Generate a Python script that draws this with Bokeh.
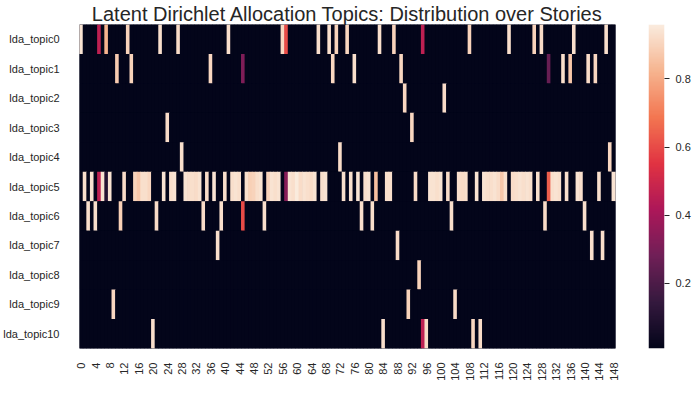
import math
import numpy as np
from bokeh.plotting import figure
from bokeh.models import Range1d, FixedTicker, LinearColorMapper, ColumnDataSource
from bokeh.transform import linear_cmap
from bokeh.layouts import row
from bokeh.embed import file_html
from bokeh.resources import INLINE

# ---------------- data ----------------
topic_names = ["lda_topic0", "lda_topic1", "lda_topic2", "lda_topic3", "lda_topic4",
               "lda_topic5", "lda_topic6", "lda_topic7", "lda_topic8", "lda_topic9",
               "lda_topic10"]
n_stories = 149
x_tick_values = list(range(0, 149, 4))
cbar_ticks = [0.2, 0.4, 0.6, 0.8]
background_value = 0.008   # near-zero share everywhere else

t0_cols = [0, 5, 7, 13, 22, 27, 41, 56, 57, 66, 69, 71, 74, 83, 87, 95, 108, 119, 126, 128, 137, 146]
t0_vals = [0.94, 0.46, 0.82, 0.90, 0.93, 0.92, 0.93, 0.91, 0.60, 0.93, 0.93, 0.90, 0.91, 0.93, 0.90, 0.46, 0.90, 0.93, 0.90, 0.92, 0.93, 0.93]

t1_cols = [10, 14, 36, 45, 70, 76, 89, 130, 134, 136, 141, 143]
t1_vals = [0.88, 0.90, 0.91, 0.31, 0.91, 0.93, 0.91, 0.26, 0.93, 0.87, 0.92, 0.91]

t2_cols = [90, 101]
t2_vals = [0.91, 0.92]

t3_cols = [24, 92]
t3_vals = [0.92, 0.91]

t4_cols = [28, 72, 147]
t4_vals = [0.93, 0.92, 0.91]

t5_cols = [1, 3, 5, 6, 7, 8, 12, 15, 16, 17, 18, 19, 23, 25, 26, 29, 30, 31, 32, 33,
           35, 37, 40, 42, 43, 44, 46, 47, 48, 49, 50, 52, 53, 54, 55, 57, 58, 59, 60, 61,
           62, 63, 64, 65, 67, 68, 73, 75, 77, 79, 80, 82, 85, 86, 93, 97, 98, 99, 100, 102,
           105, 106, 107, 110, 112, 113, 114, 115, 116, 117, 118, 120, 121, 122, 123, 124, 125, 127, 130, 131,
           132, 133, 135, 138, 139, 144, 148]
t5_vals = [0.93, 0.94, 0.46, 0.94, 0.10, 0.94, 0.92, 0.90, 0.87, 0.93, 0.93, 0.91, 0.94, 0.93, 0.94, 0.94, 0.93, 0.93, 0.92, 0.94,
           0.92, 0.94, 0.93, 0.93, 0.94, 0.93, 0.93, 0.89, 0.90, 0.93, 0.94, 0.90, 0.94, 0.93, 0.94, 0.33, 0.94, 0.93, 0.96, 0.92,
           0.94, 0.93, 0.92, 0.94, 0.93, 0.94, 0.93, 0.93, 0.94, 0.93, 0.94, 0.85, 0.93, 0.93, 0.92, 0.94, 0.94, 0.93, 0.94, 0.92,
           0.93, 0.92, 0.93, 0.94, 0.94, 0.93, 0.93, 0.94, 0.92, 0.87, 0.93, 0.92, 0.93, 0.94, 0.93, 0.94, 0.93, 0.93, 0.64, 0.93,
           0.94, 0.93, 0.93, 0.94, 0.93, 0.93, 0.94]

t6_cols = [2, 4, 11, 21, 34, 39, 45, 51, 78, 81, 103, 129, 140]
t6_vals = [0.93, 0.93, 0.89, 0.92, 0.92, 0.93, 0.60, 0.93, 0.93, 0.93, 0.93, 0.92, 0.93]

t7_cols = [38, 88, 142, 145]
t7_vals = [0.93, 0.92, 0.93, 0.93]

t8_cols = [94]
t8_vals = [0.90]

t9_cols = [9, 91, 104]
t9_vals = [0.91, 0.90, 0.92]

t10_cols = [20, 84, 95, 96, 109, 111]
t10_vals = [0.93, 0.93, 0.46, 0.92, 0.91, 0.92]

# seaborn "rocket" colormap anchor colours
rocket_anchor_pos = [0.0, 1 / 7, 2 / 7, 3 / 7, 4 / 7, 5 / 7, 6 / 7, 1.0]
rocket_anchor_hex = ["#03051a", "#35193e", "#701f57", "#ad1759", "#e13342", "#f37651", "#f6b48f", "#faebdd"]

# ---------------- build matrix ----------------
topic_cols = [t0_cols, t1_cols, t2_cols, t3_cols, t4_cols, t5_cols, t6_cols, t7_cols, t8_cols, t9_cols, t10_cols]
topic_vals = [t0_vals, t1_vals, t2_vals, t3_vals, t4_vals, t5_vals, t6_vals, t7_vals, t8_vals, t9_vals, t10_vals]
z = np.full((len(topic_names), n_stories), background_value)
for r, (cs, vs) in enumerate(zip(topic_cols, topic_vals)):
    for c, v in zip(cs, vs):
        z[r, c] = v
zmin, zmax = float(z.min()), float(z.max())

xs, ys, vals = [], [], []
for r in range(len(topic_names)):
    for c in range(n_stories):
        xs.append(c + 0.5)
        ys.append(r + 0.5)
        vals.append(z[r, c])
src = ColumnDataSource(dict(x=xs, y=ys, value=vals))

def hex_to_rgb(h):
    return [int(h[i:i + 2], 16) for i in (1, 3, 5)]

anchors = np.array([hex_to_rgb(h) for h in rocket_anchor_hex], dtype=float)
tt = np.linspace(0, 1, 256)
palette = []
for t in tt:
    rgb = [np.interp(t, rocket_anchor_pos, anchors[:, k]) for k in range(3)]
    palette.append("#%02x%02x%02x" % tuple(int(round(v)) for v in rgb))

FONT = "Liberation Sans"
TXT = "#262626"

# ---------------- heatmap ----------------
p = figure(frame_width=536, frame_height=324,
           x_range=Range1d(0, n_stories), y_range=Range1d(len(topic_names), 0),
           min_border_left=68, min_border_top=0, min_border_right=10, min_border_bottom=5,
           toolbar_location=None, output_backend="svg",
           title="Latent Dirichlet Allocation Topics: Distribution over Stories")
p.title.text_font = FONT
p.title.text_font_size = "20px"
p.title.text_font_style = "normal"
p.title.text_color = TXT
p.title.align = "center"
p.title.standoff = 0
p.title.offset = 0
p.background_fill_color = palette[0]

cmap = linear_cmap("value", palette, low=zmin, high=zmax)
# slight overlap of neighbouring cells hides anti-aliasing seams
p.rect(x="x", y="y", width=1.2, height=1, source=src,
       fill_color=cmap, line_color=None)

p.xaxis.ticker = FixedTicker(ticks=[v + 0.5 for v in x_tick_values])
p.xaxis.major_label_overrides = {v + 0.5: str(v) for v in x_tick_values}
p.xaxis.major_label_orientation = math.pi / 2
p.xaxis.major_label_standoff = 8
p.yaxis.ticker = FixedTicker(ticks=[i + 0.5 for i in range(len(topic_names))])
p.yaxis.major_label_overrides = {i + 0.5: n for i, n in enumerate(topic_names)}
p.yaxis.major_label_standoff = 14
for ax in (p.xaxis, p.yaxis):
    ax.axis_line_color = None
    ax.major_tick_line_color = None
    ax.minor_tick_line_color = None
    ax.major_label_text_font = FONT
    ax.major_label_text_font_size = "11px"
    ax.major_label_text_color = TXT
p.grid.visible = False
p.outline_line_color = None

# ---------------- colour bar ----------------
mapper = LinearColorMapper(palette=palette, low=zmin, high=zmax)
p2 = figure(frame_width=16, frame_height=324,
            x_range=Range1d(0, 1), y_range=Range1d(zmin, zmax),
            min_border_left=23, min_border_top=23, min_border_right=0, min_border_bottom=26,
            x_axis_location=None, y_axis_location="right",
            toolbar_location=None, output_backend="svg")
grad = np.linspace(zmin, zmax, 256).reshape(256, 1)
p2.image(image=[grad], x=0, y=zmin, dw=1, dh=zmax - zmin, color_mapper=mapper)
p2.yaxis.ticker = FixedTicker(ticks=cbar_ticks)
p2.yaxis.major_tick_out = 5
p2.yaxis.major_tick_in = 0
p2.yaxis.major_tick_line_color = TXT
p2.yaxis.minor_tick_line_color = None
p2.yaxis.axis_line_color = None
p2.yaxis.major_label_standoff = 6
p2.yaxis.major_label_text_font = FONT
p2.yaxis.major_label_text_font_size = "11px"
p2.yaxis.major_label_text_color = TXT
p2.grid.visible = False
p2.outline_line_color = None

layout = row(p, p2)
open("out.html", "w").write(file_html(layout, INLINE))
